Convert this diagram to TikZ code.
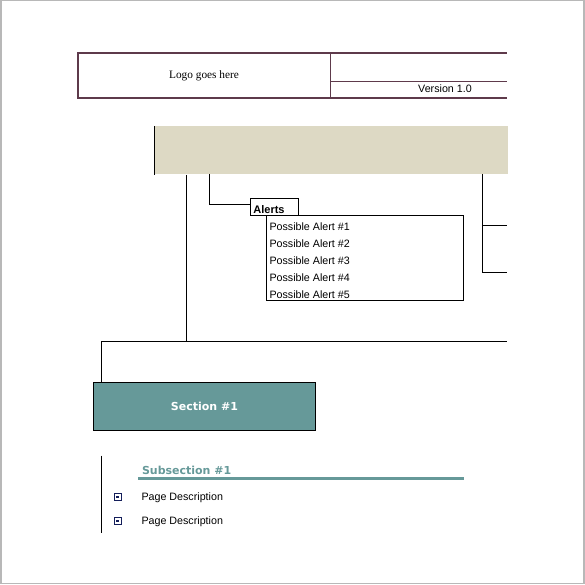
\documentclass[tikz,border=0pt]{standalone}
\usepackage{fontspec}
\setmainfont{Liberation Sans}
\newfontfamily\verdana{DejaVu Sans}
\newfontfamily\logoserif{Liberation Serif}
\usetikzlibrary{arrows}
\definecolor{headline}{RGB}{94,58,75}
\definecolor{bandtan}{RGB}{221,217,196}
\definecolor{sectteal}{RGB}{102,153,153}
\definecolor{framegray}{RGB}{184,184,184}
\definecolor{iconnavy}{RGB}{20,30,90}

\begin{document}
\begin{tikzpicture}[x=1pt,y=-1pt,line width=1pt]
\tikzset{every node/.style={inner sep=0pt,font=\fontsize{10.7}{12}\selectfont},
  box/.style={draw,line width=0.8pt,rectangle,anchor=north west},
  item/.style={anchor=base west},
  heading/.style={font=\verdana\bfseries\fontsize{11}{13}\selectfont},
  icon/.style={draw=iconnavy,line width=1pt,minimum size=7pt}}

\useasboundingbox (0,0) rectangle (585,585);
\draw[framegray,line width=1.5pt] (0.75,0.75) rectangle (584,583.3);

\draw[headline,line width=2pt] (77,53) -- (507,53);
\draw[headline,line width=2pt] (77,97.7) -- (507,97.7);
\draw[headline,line width=1.2pt] (78,53) -- (78,97.7);
\draw[headline] (330,53) -- (330,97.7);
\draw[headline] (330,81.3) -- (507,81.3);
\node[font=\logoserif\fontsize{11.3}{13}\selectfont] (logo) at (204,75.5) {Logo goes here};
\node (version) at (445,89) {Version 1.0};

\node[fill=bandtan,minimum width=353pt,minimum height=48pt,anchor=north west] (band) at (154,126) {};
\draw (band.north west) -- (band.south west);

\node[box,minimum width=48pt,minimum height=17pt,text width=42pt,inner xsep=3pt,text height=12pt,
  align=left,font=\bfseries\fontsize{11}{12}\selectfont] (alerts) at (250,198.3) {Alerts};
\node[box,minimum width=197pt,minimum height=85pt] (alertlist) at (266.3,215.3) {};
\foreach \i in {1,...,5}
  \node[item] (alert\i) at (269,213+17*\i) {Possible Alert \#\i};

\coordinate (alertdrop) at (209,174);
\draw (alertdrop) |- ([yshift=-6pt]alerts.north west);

\coordinate (rightdrop) at (482.5,174);
\coordinate (branchtop) at (507,225);
\coordinate (branchlow) at (507,272.5);
\draw (rightdrop) |- (branchlow);
\draw (rightdrop |- branchtop) -- (branchtop);

\node[box,fill=sectteal,minimum width=222pt,minimum height=48pt,text=white,heading] (section) at (93,382) {Section \#1};

\coordinate (trunk) at (186,341);
\coordinate (rowleft) at (101,341);
\coordinate (rowright) at (507,341);
\draw (band.south west -| trunk) -- (trunk);
\draw (rowleft) -- (rowright);
\draw (rowleft) -- (rowleft |- section.north);

\draw (101,455.5) -- (101,532.5);
\node[item,text=sectteal,heading] (subsec) at (141.5,474.8) {Subsection \#1};
\draw[sectteal,line width=3pt] (138,478.2) -- (464,478.2);

\foreach \y [count=\n] in {500.5,524.5} {
  \node[item] (page\n) at (141,\y) {Page Description};
  \node[icon] (icon\n) at (117.5,\y-4) {};
  \fill[iconnavy] ([shift={(-1.5pt,-1pt)}]icon\n.center) rectangle ([shift={(1.5pt,1pt)}]icon\n.center);
}
\end{tikzpicture}
\end{document}
